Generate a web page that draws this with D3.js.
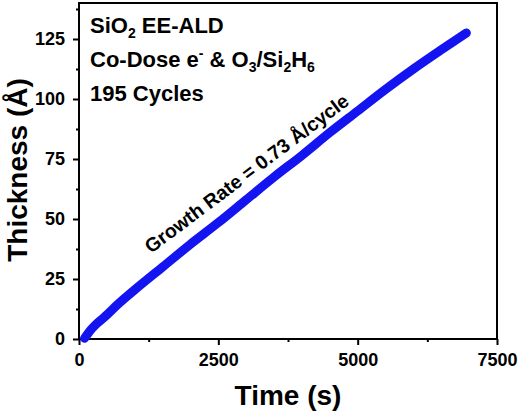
<!DOCTYPE html>
<html>
<meta charset="UTF-8">
<script src="https://d3js.org/d3.v7.min.js"></script>
<style>
  body { margin: 0; background: #fff; }
  text { font-family: "Liberation Sans", Arial, sans-serif; font-weight: bold; fill: #000; }
</style>
<body>
<div id="id_chart"></div>
<script>

// values
var timeS      = [100, 200, 300, 450, 700, 1000, 1500, 2000, 2500, 3000, 3500, 4000, 4500, 5000, 5500, 6000, 6500, 6950];
var thicknessA = [0.3, 3.5, 6, 9, 14.5, 20.5, 30, 39.5, 48.5, 58, 67.5, 76.5, 86, 95, 104, 112.5, 120.5, 127.5];

var xTicks = [0, 2500, 5000, 7500];
var xMinor = [1250, 3750, 6250];
var yTicks = [0, 25, 50, 75, 100, 125];
var yMinor = [12.5, 37.5, 62.5, 87.5, 112.5, 137.5];

var margin = {top: 3, right: 23, bottom: 73, left: 79},
    width = 520 - margin.left - margin.right,
    height = 412 - margin.top - margin.bottom;

var svg = d3.select("#id_chart")
  .append("svg")
    .attr("width", 520)
    .attr("height", 412)
  .append("g")
    .attr("transform", "translate(" + margin.left + "," + margin.top + ")");

var x = d3.scaleLinear().domain([0, 7500]).range([0, width]);
var y = d3.scaleLinear().domain([0, 140]).range([height, 0]);

// minor ticks
svg.append("g")
  .attr("transform", "translate(0," + height + ")")
  .call(d3.axisBottom(x).tickValues(xMinor).tickSize(3).tickFormat(""));
svg.append("g")
  .call(d3.axisLeft(y).tickValues(yMinor).tickSize(3).tickFormat(""));

// major ticks
svg.append("g")
  .attr("transform", "translate(0," + height + ")")
  .call(d3.axisBottom(x).tickValues(xTicks).tickSize(6).tickPadding(8).tickFormat(d3.format("d")));
svg.append("g")
  .call(d3.axisLeft(y).tickValues(yTicks).tickSize(6).tickPadding(8).tickFormat(d3.format("d")));

svg.selectAll(".tick text").style("font-size", "18px");
svg.selectAll(".domain").remove();
svg.selectAll(".tick line").attr("stroke", "#000").attr("stroke-width", 2);

// frame
svg.append("rect")
  .attr("x", 0).attr("y", 0)
  .attr("width", width).attr("height", height)
  .attr("fill", "none")
  .attr("stroke", "#000")
  .attr("stroke-width", 2);

// data band
var line = d3.line()
  .x(function(d, i) { return x(timeS[i]); })
  .y(function(d) { return y(d); })
  .curve(d3.curveMonotoneX);

svg.append("path")
  .datum(thicknessA)
  .attr("d", line)
  .attr("fill", "none")
  .attr("stroke", "#1414f0")
  .attr("stroke-width", 9)
  .attr("stroke-linecap", "round");

// axis titles
svg.append("text")
  .attr("x", width / 2)
  .attr("y", height + 66)
  .attr("text-anchor", "middle")
  .style("font-size", "28px")
  .text("Time (s)");

svg.append("text")
  .attr("transform", "translate(" + (27 - margin.left) + "," + (170 - margin.top) + ")rotate(-90)")
  .attr("text-anchor", "middle")
  .style("font-size", "28px")
  .text("Thickness (Å)");

// annotation lines
var note = svg.append("g").style("font-size", "22px");

var l1 = note.append("text").attr("x", 11).attr("y", 30);
l1.append("tspan").text("SiO");
l1.append("tspan").attr("dy", 5).style("font-size", "14px").text("2");
l1.append("tspan").attr("dy", -5).text(" EE-ALD");

var l2 = note.append("text").attr("x", 11).attr("y", 64);
l2.append("tspan").text("Co-Dose e");
l2.append("tspan").attr("dy", -9).style("font-size", "14px").text("-");
l2.append("tspan").attr("dy", 9).text(" & O");
l2.append("tspan").attr("dy", 5).style("font-size", "14px").text("3");
l2.append("tspan").attr("dy", -5).text("/Si");
l2.append("tspan").attr("dy", 5).style("font-size", "14px").text("2");
l2.append("tspan").attr("dy", -5).text("H");
l2.append("tspan").attr("dy", 5).style("font-size", "14px").text("6");

note.append("text").attr("x", 11).attr("y", 98).text("195 Cycles");

svg.append("text")
  .attr("transform", "translate(" + (151 - margin.left) + "," + (254 - margin.top) + ")rotate(-37)")
  .style("font-size", "19.5px")
  .text("Growth Rate = 0.73 Å/cycle");

</script>
</body>
</html>
